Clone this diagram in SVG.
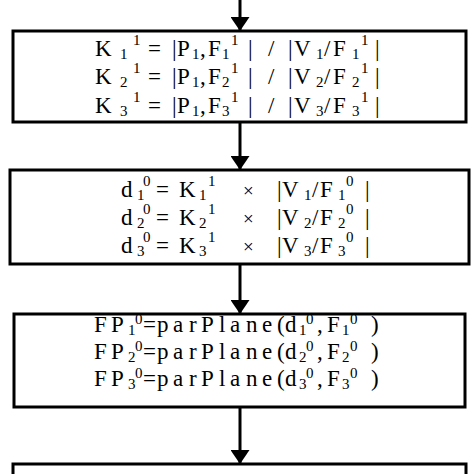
<svg xmlns="http://www.w3.org/2000/svg" width="474" height="474" viewBox="0 0 474 474">
<style>
.box{fill:#fff;stroke:#000;stroke-width:3}
.c{stroke:#000;stroke-width:3;fill:none}
text{font-family:"Liberation Serif","Times New Roman",serif;font-size:23px;fill:#000}
.s{font-size:15px}
.x{font-size:19px}
</style>
<defs>
<marker id="ah" markerUnits="userSpaceOnUse" viewBox="0 0 14 19" markerWidth="14" markerHeight="19" refX="14" refY="9.5" orient="auto">
<path d="M0,0L14,9.5L0,19z" fill="#000"/>
</marker>
</defs>
<rect width="474" height="474" fill="#fff"/>
<g id="connectors">
<line class="c" x1="240" y1="0" x2="240" y2="31" marker-end="url(#ah)"/>
<line class="c" x1="240" y1="122" x2="240" y2="170" marker-end="url(#ah)"/>
<line class="c" x1="240" y1="264" x2="240" y2="314" marker-end="url(#ah)"/>
<line class="c" x1="240" y1="407" x2="240" y2="464" marker-end="url(#ah)"/>
</g>
<g id="node1">
<rect class="box" x="13" y="31" width="453" height="91"/>
<text y="56"><tspan x="95">K</tspan><tspan class="s" x="120" y="59">1</tspan><tspan class="s" x="133" y="45">1</tspan><tspan x="148" y="56">=</tspan><tspan x="172">|</tspan><tspan x="177">P</tspan><tspan class="s" x="192" y="59">1</tspan><tspan x="200" y="56">,</tspan><tspan x="208">F</tspan><tspan class="s" x="222" y="59">1</tspan><tspan class="s" x="231" y="45">1</tspan><tspan x="248" y="56">|</tspan><tspan x="268">/</tspan><tspan x="288">|</tspan><tspan x="294">V</tspan><tspan class="s" x="316" y="59">1</tspan><tspan x="324" y="56">/</tspan><tspan x="333">F</tspan><tspan class="s" x="352" y="59">1</tspan><tspan class="s" x="361" y="45">1</tspan><tspan x="375" y="56">|</tspan></text>
<text y="84"><tspan x="95">K</tspan><tspan class="s" x="120" y="87">2</tspan><tspan class="s" x="133" y="73">1</tspan><tspan x="148" y="84">=</tspan><tspan x="172">|</tspan><tspan x="177">P</tspan><tspan class="s" x="192" y="87">1</tspan><tspan x="200" y="84">,</tspan><tspan x="208">F</tspan><tspan class="s" x="222" y="87">2</tspan><tspan class="s" x="231" y="73">1</tspan><tspan x="248" y="84">|</tspan><tspan x="268">/</tspan><tspan x="288">|</tspan><tspan x="294">V</tspan><tspan class="s" x="316" y="87">2</tspan><tspan x="324" y="84">/</tspan><tspan x="333">F</tspan><tspan class="s" x="352" y="87">2</tspan><tspan class="s" x="361" y="73">1</tspan><tspan x="375" y="84">|</tspan></text>
<text y="113"><tspan x="95">K</tspan><tspan class="s" x="120" y="116">3</tspan><tspan class="s" x="133" y="102">1</tspan><tspan x="148" y="113">=</tspan><tspan x="172">|</tspan><tspan x="177">P</tspan><tspan class="s" x="192" y="116">1</tspan><tspan x="200" y="113">,</tspan><tspan x="208">F</tspan><tspan class="s" x="222" y="116">3</tspan><tspan class="s" x="231" y="102">1</tspan><tspan x="248" y="113">|</tspan><tspan x="268">/</tspan><tspan x="288">|</tspan><tspan x="294">V</tspan><tspan class="s" x="316" y="116">3</tspan><tspan x="324" y="113">/</tspan><tspan x="333">F</tspan><tspan class="s" x="352" y="116">3</tspan><tspan class="s" x="361" y="102">1</tspan><tspan x="375" y="113">|</tspan></text>
</g>
<g id="node2">
<rect class="box" x="10" y="170" width="459" height="94"/>
<text y="197"><tspan x="121">d</tspan><tspan class="s" x="137" y="200">1</tspan><tspan class="s" x="143" y="186">0</tspan><tspan x="156" y="197">=</tspan><tspan x="179">K</tspan><tspan class="s" x="199" y="200">1</tspan><tspan class="s" x="208" y="186">1</tspan><tspan class="x" x="243" y="197">×</tspan><tspan x="277">|</tspan><tspan x="282">V</tspan><tspan class="s" x="304" y="200">1</tspan><tspan x="312" y="197">/</tspan><tspan x="320">F</tspan><tspan class="s" x="338" y="200">1</tspan><tspan class="s" x="346" y="186">0</tspan><tspan x="365" y="197">|</tspan></text>
<text y="225"><tspan x="121">d</tspan><tspan class="s" x="137" y="228">2</tspan><tspan class="s" x="143" y="214">0</tspan><tspan x="156" y="225">=</tspan><tspan x="179">K</tspan><tspan class="s" x="199" y="228">2</tspan><tspan class="s" x="208" y="214">1</tspan><tspan class="x" x="243" y="225">×</tspan><tspan x="277">|</tspan><tspan x="282">V</tspan><tspan class="s" x="304" y="228">2</tspan><tspan x="312" y="225">/</tspan><tspan x="320">F</tspan><tspan class="s" x="338" y="228">2</tspan><tspan class="s" x="346" y="214">0</tspan><tspan x="365" y="225">|</tspan></text>
<text y="253"><tspan x="121">d</tspan><tspan class="s" x="137" y="256">3</tspan><tspan class="s" x="143" y="242">0</tspan><tspan x="156" y="253">=</tspan><tspan x="179">K</tspan><tspan class="s" x="199" y="256">3</tspan><tspan class="s" x="208" y="242">1</tspan><tspan class="x" x="243" y="253">×</tspan><tspan x="277">|</tspan><tspan x="282">V</tspan><tspan class="s" x="304" y="256">3</tspan><tspan x="312" y="253">/</tspan><tspan x="320">F</tspan><tspan class="s" x="338" y="256">3</tspan><tspan class="s" x="346" y="242">0</tspan><tspan x="365" y="253">|</tspan></text>
</g>
<g id="node3">
<rect class="box" x="14" y="314" width="451" height="93"/>
<text y="332"><tspan x="94">F</tspan><tspan x="111">P</tspan><tspan class="s" x="128" y="335">1</tspan><tspan class="s" x="135" y="324">0</tspan><tspan x="143" y="332">=</tspan><tspan x="157">p</tspan><tspan x="173">a</tspan><tspan x="189">r</tspan><tspan x="201">P</tspan><tspan x="219">l</tspan><tspan x="230">a</tspan><tspan x="246">n</tspan><tspan x="262">e</tspan><tspan x="277">(</tspan><tspan x="285">d</tspan><tspan class="s" x="299" y="335">1</tspan><tspan class="s" x="306" y="324">0</tspan><tspan x="317" y="332">,</tspan><tspan x="327">F</tspan><tspan class="s" x="342" y="335">1</tspan><tspan class="s" x="350" y="324">0</tspan><tspan x="371" y="332">)</tspan></text>
<text y="359"><tspan x="94">F</tspan><tspan x="111">P</tspan><tspan class="s" x="128" y="362">2</tspan><tspan class="s" x="135" y="351">0</tspan><tspan x="143" y="359">=</tspan><tspan x="157">p</tspan><tspan x="173">a</tspan><tspan x="189">r</tspan><tspan x="201">P</tspan><tspan x="219">l</tspan><tspan x="230">a</tspan><tspan x="246">n</tspan><tspan x="262">e</tspan><tspan x="277">(</tspan><tspan x="285">d</tspan><tspan class="s" x="299" y="362">2</tspan><tspan class="s" x="306" y="351">0</tspan><tspan x="317" y="359">,</tspan><tspan x="327">F</tspan><tspan class="s" x="342" y="362">2</tspan><tspan class="s" x="350" y="351">0</tspan><tspan x="371" y="359">)</tspan></text>
<text y="386"><tspan x="94">F</tspan><tspan x="111">P</tspan><tspan class="s" x="128" y="389">3</tspan><tspan class="s" x="135" y="378">0</tspan><tspan x="143" y="386">=</tspan><tspan x="157">p</tspan><tspan x="173">a</tspan><tspan x="189">r</tspan><tspan x="201">P</tspan><tspan x="219">l</tspan><tspan x="230">a</tspan><tspan x="246">n</tspan><tspan x="262">e</tspan><tspan x="277">(</tspan><tspan x="285">d</tspan><tspan class="s" x="299" y="389">3</tspan><tspan class="s" x="306" y="378">0</tspan><tspan x="317" y="386">,</tspan><tspan x="327">F</tspan><tspan class="s" x="342" y="389">3</tspan><tspan class="s" x="350" y="378">0</tspan><tspan x="371" y="386">)</tspan></text>
</g>
<g id="node4">
<rect class="box" x="13" y="464" width="453" height="20"/>
</g>
</svg>
